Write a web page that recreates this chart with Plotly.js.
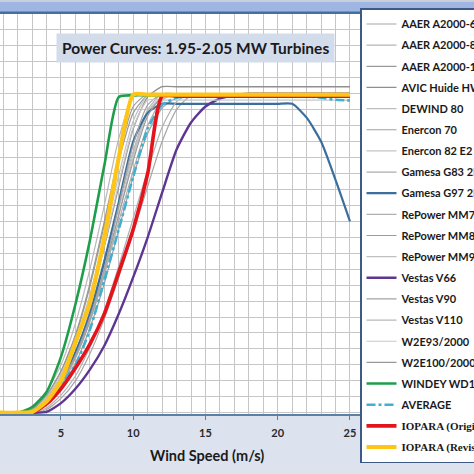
<!DOCTYPE html>
<html>
<head>
<meta charset="utf-8">
<script src="https://cdn.plot.ly/plotly-3.0.1.min.js"></script>
<style>html,body{margin:0;padding:0;background:#dce3ef;}#chart{width:474px;height:474px;}</style>
</head>
<body>
<div id="chart"></div>
<script>
// Wind speed (m/s)
const windSpeed = [0,1,2,3,4,5,6,7,8,9,10,11,12,13,14,15,16,17,18,19,20,21,22,23,24,25];

// Power output (kW)
const aaer65   = [0,0,0,0,20,90,200,370,590,850,1130,1420,1700,1900,1990,2000,2000,2000,2000,2000,2000,2000,2000,2000,2000,2000];
const aaer80   = [0,0,0,10,80,200,380,640,960,1310,1640,1900,2000,2000,2000,2000,2000,2000,2000,2000,2000,2000,2000,2000,2000,2000];
const aaer100  = [0,0,0,20,110,260,480,790,1180,1580,1880,1990,2000,2000,2000,2000,2000,2000,2000,2000,2000,2000,2000,2000,2000,2000];
const avic     = [0,0,0,10,90,220,420,700,1040,1420,1780,1980,2044,2044,2044,2044,2044,2044,2044,2044,2044,2044,2044,2044,2044,2044];
const dewind80 = [0,0,0,5,70,190,370,620,930,1280,1620,1880,1980,2000,2000,2000,2000,2000,2000,2000,2000,2000,2000,2000,2000,2000];
const enercon70= [0,0,0,0,50,150,310,530,810,1150,1480,1750,1910,1975,2000,2000,2000,2000,2000,2000,2000,2000,2000,2000,2000,2000];
const enercon82= [0,0,0,3,55,175,350,580,860,1240,1600,1890,1980,2000,2000,2000,2000,2000,2000,2000,2000,2000,2000,2000,2000,2000];
const gamesa83 = [0,0,0,0,60,170,340,570,870,1200,1520,1800,1960,2000,2000,2000,2000,2000,2000,2000,2000,2000,2000,2000,2000,2000];
const gamesa97 = [0,0,0,0,80,200,380,620,950,1320,1700,1880,1937,1937,1937,1937,1937,1937,1937,1937,1937,1937,1850,1700,1460,1200];
const mm70     = [0,0,0,0,30,110,230,410,640,920,1220,1520,1790,1950,2000,2000,2000,2000,2000,2000,2000,2000,2000,2000,2000,2000];
const mm82     = [0,0,0,10,70,190,360,600,900,1240,1580,1860,1980,2000,2000,2000,2000,2000,2000,2000,2000,2000,2000,2000,2000,2000];
const mm92     = [0,0,0,20,100,240,450,740,1100,1490,1830,1990,2000,2000,2000,2000,2000,2000,2000,2000,2000,2000,2000,2000,2000,2000];
const v66      = [0,0,0,0,5,60,150,270,420,620,850,1100,1380,1650,1820,1920,1970,1990,2000,2000,2000,2000,2000,2000,2000,2000];
const v90      = [0,0,0,0,75,190,350,580,900,1300,1680,1930,2000,2000,2000,2000,2000,2000,2000,2000,2000,2000,2000,2000,2000,2000];
const v110     = [0,0,0,20,130,300,560,900,1300,1720,1980,2000,2000,2000,2000,2000,2000,2000,2000,2000,2000,2000,2000,2000,2000,2000];
const w2e93    = [0,0,0,15,90,220,420,700,1050,1440,1790,1960,1960,1960,1960,1960,1960,1960,1960,1960,1960,1960,1960,1960,1960,1960];
const w2e100   = [0,0,0,20,110,260,490,810,1200,1610,1920,2000,2000,2000,2000,2000,2000,2000,2000,2000,2000,2000,2000,2000,2000,2000];
const windey   = [0,0,0,35,130,350,680,1080,1550,1980,1990,1990,1990,1990,1990,1990,1990,1990,1990,1990,1990,1990,1990,1990,1990,1990];
const average  = [0,0,0,10,70,180,300,520,830,1150,1480,1780,1930,1975,1985,1985,1985,1985,1985,1985,1985,1985,1985,1975,1962,1958];
const iopOrig  = [0,0,0,0,55,150,280,430,620,880,1150,1500,1985,1985,1985,1985,1985,1985,1985,1985,1985,1985,1985,1985,1985,1985];
const iopRev   = [0,0,0,5,70,200,440,690,1100,1600,1995,1995,1995,1995,1995,1995,1995,1995,1995,1995,1995,1995,1995,1995,1995,1995];

const tickVals = [5,10,15,20,25];
const tickLabels = ['5','10','15','20','25'];

const seriesNames = ['AAER A2000-65','AAER A2000-80','AAER A2000-100','AVIC Huide HW77','DEWIND 80','Enercon 70','Enercon 82 E2','Gamesa G83 2MW','Gamesa G97 2MW','RePower MM70','RePower MM82','RePower MM92','Vestas V66','Vestas V90','Vestas V110','W2E93/2000','W2E100/2000','WINDEY WD110','AVERAGE','IOPARA (Original)','IOPARA (Revised)'];
const seriesData = [aaer65,aaer80,aaer100,avic,dewind80,enercon70,enercon82,gamesa83,gamesa97,mm70,mm82,mm92,v66,v90,v110,w2e93,w2e100,windey,average,iopOrig,iopRev];

const styles = [
  {color:'#a6a6a6', width:1.2},
  {color:'#b5b5b5', width:1.2},
  {color:'#9a9a9a', width:1.2},
  {color:'#8f8f8f', width:1.3},
  {color:'#bdbdbd', width:1.2},
  {color:'#a0a0a0', width:1.2},
  {color:'#c4c4c4', width:1.2},
  {color:'#acacac', width:1.2},
  {color:'#3a6e9c', width:2.2},
  {color:'#b0b0b0', width:1.2},
  {color:'#9c9c9c', width:1.2},
  {color:'#c0c0c0', width:1.2},
  {color:'#5e3592', width:2.4},
  {color:'#a3a3a3', width:1.2},
  {color:'#b8b8b8', width:1.2},
  {color:'#c8c8c8', width:1.2},
  {color:'#999999', width:1.2},
  {color:'#1e9e4a', width:2.6},
  {color:'#3fb0d0', width:2.6, dash:'dashdot'},
  {color:'#e3141b', width:3.6},
  {color:'#ffc516', width:4.2}
];

const traces = seriesNames.map((nm,i)=>{
  const isIop = nm.indexOf('IOPARA')===0;
  return {
    x: windSpeed, y: seriesData[i], type:'scatter', mode:'lines',
    name: isIop ? '<span style="font-family:\'Liberation Serif\'">'+nm+'</span>' : nm,
    legendgroup: 'g'+i,
    line: Object.assign({shape:'spline', smoothing:0.6}, styles[i]),
    hoverinfo:'skip'
  };
});

const plotTop = 14, plotBottom = 414, plotRight = 365;
const H = plotBottom - plotTop;

const layout = {
  width:474, height:474,
  margin:{l:0, r:474-plotRight, t:plotTop, b:474-plotBottom, autoexpand:false},
  paper_bgcolor:'#dce3ef',
  plot_bgcolor:'#ffffff',
  showlegend:true,
  xaxis:{
    range:[0.78, 26.04],
    tickvals:tickVals, ticktext:tickLabels,
    ticks:'outside', ticklen:4, tickcolor:'#5b7fa6', tickwidth:1,
    ticklabelstandoff:4,
    tickfont:{family:'Lato, sans-serif', size:11, color:'#2a2a2a', weight:'bold'},
    showgrid:true, gridcolor:'#c6c6c6', gridwidth:1,
    minor:{dtick:1, tick0:0, showgrid:true, gridcolor:'#c6c6c6', gridwidth:1, ticklen:0},
    showline:true, linecolor:'#5b7fa6', linewidth:2,
    zeroline:false, fixedrange:true
  },
  yaxis:{
    range:[-8, 2500],
    dtick:100, tick0:0,
    showticklabels:false, ticks:'',
    showgrid:true, gridcolor:'#c6c6c6', gridwidth:1,
    zeroline:false, showline:false, fixedrange:true
  },
  legend:{
    x:360/plotRight, xanchor:'left',
    y:(plotBottom-8)/H, yanchor:'top',
    maxheight:470,
    bgcolor:'#ffffff', bordercolor:'#3c5a85', borderwidth:1.5,
    font:{family:'Lato, sans-serif', size:11, color:'#1a1a1a', weight:'bold'},
    traceorder:'grouped', tracegroupgap:2.15
  },
  shapes:[
    {type:'rect', xref:'paper', yref:'paper', x0:0, x1:474/plotRight, y0:1+2/H, y1:1+(plotTop+1)/H, fillcolor:'#9fb6e2', line:{width:0}, layer:'above'},
    {type:'rect', xref:'paper', yref:'paper', x0:0, x1:474/plotRight, y0:1+(plotTop-2)/H, y1:1+(plotTop+1)/H, fillcolor:'#c9cedb', line:{width:0}, layer:'above'},
    {type:'rect', xref:'paper', yref:'paper', x0:0, x1:474/plotRight, y0:1, y1:1+2.5/H, fillcolor:'#44709f', line:{width:0}, layer:'above'}
  ],
  annotations:[
    {text:'<b>Power Curves: 1.95-2.05 MW Turbines</b>', xref:'paper', yref:'paper',
     x:195/plotRight, y:(plotBottom-48)/H, xanchor:'center', yanchor:'middle', showarrow:false,
     font:{family:'Lato, sans-serif', size:15.5, color:'#1a1a1a'},
     bgcolor:'#d3dcea', borderpad:5},
    {text:'<b>Wind Speed (m/s)</b>', xref:'paper', yref:'paper',
     x:207/plotRight, y:(plotBottom-455)/H, xanchor:'center', yanchor:'middle', showarrow:false,
     font:{family:'Lato, sans-serif', size:14.5, color:'#1a1a1a'}}
  ]
};

Plotly.newPlot('chart', traces, layout, {staticPlot:true, displayModeBar:false});
</script>
</body>
</html>
